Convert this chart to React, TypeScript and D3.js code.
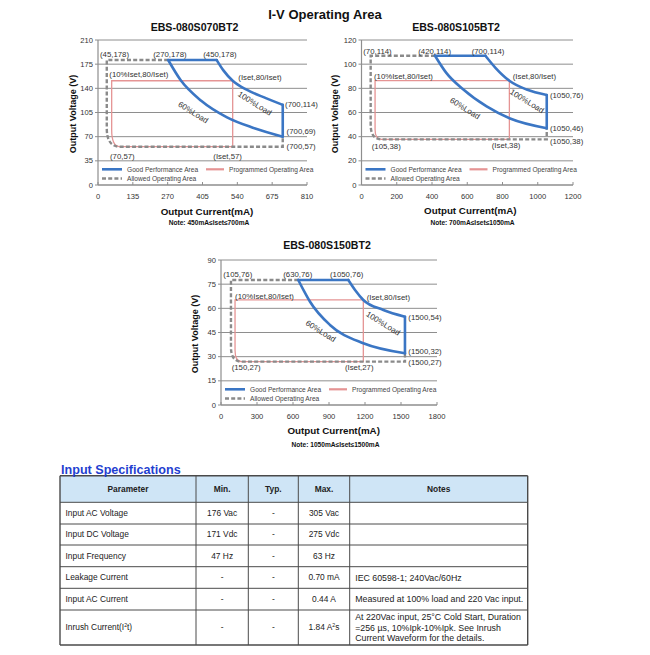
import React from 'react';
import * as d3 from 'd3';

const FONT = '"Liberation Sans", Arial, Helvetica, sans-serif';
type Pt = [number, number];
interface Lbl { t: string; x: number; y: number }

// ---------- Chart 1: EBS-080S070BT2 ----------
const c1XTicks = [0, 135, 270, 405, 540, 675, 810];
const c1YTicks = [0, 35, 70, 105, 140, 175, 210];
const c1Load100: Pt[] = [[460, 181], [486, 166], [522, 151], [576, 138], [653, 125.5], [716, 116]];
const c1Load60: Pt[] = [[272, 181], [320, 152], [400, 122], [500, 98], [600, 83], [716, 70]];
const c1Allowed: Pt[] = [[272, 181], [34, 181], [34, 82], [34, 55.5], [85, 55.5], [716, 55.5], [716, 70]];
const c1Programmed: Pt[] = [[53, 80], [53, 151], [522, 151], [522, 55.5], [85, 55.5], [53, 55.5]];
const c1Labels: Lbl[] = [
  { t: '(45,178)', x: 7.8, y: 189.7 },
  { t: '(270,178)', x: 214, y: 189.7 },
  { t: '(450,178)', x: 408, y: 189.7 },
  { t: '(10%Iset,80/Iset)', x: 44, y: 160.3 },
  { t: '(Iset,80/Iset)', x: 544, y: 156 },
  { t: '(700,114)', x: 725, y: 117 },
  { t: '(700,69)', x: 731, y: 77.2 },
  { t: '(700,57)', x: 731, y: 55.5 },
  { t: '(70,57)', x: 46.5, y: 42 },
  { t: '(Iset,57)', x: 447, y: 42 },
];
const c1LoadLabels: Lbl[] = [
  { t: '100%Load', x: 608, y: 118.3 },
  { t: '60%Load', x: 369, y: 105.3 },
];

// ---------- Chart 2: EBS-080S105BT2 ----------
const c2XTicks = [0, 200, 400, 600, 800, 1000, 1200];
const c2YTicks = [0, 20, 40, 60, 80, 100, 120];
const c2Load100: Pt[] = [[703, 107], [760, 97], [839, 86.3], [937, 79], [1051, 74.5]];
const c2Load60: Pt[] = [[417, 107], [480, 93], [578, 79], [710, 65], [843, 55], [1051, 47]];
const c2Allowed: Pt[] = [[417, 107], [52, 107], [52, 50], [52, 37.8], [114, 37.8], [1051, 37.8], [1051, 47]];
const c2Programmed: Pt[] = [[77, 46], [77, 86.3], [839, 86.3], [839, 37.8], [114, 37.8], [77, 37.8]];
const c2Labels: Lbl[] = [
  { t: '(70,114)', x: 10, y: 110.3 },
  { t: '(420,114)', x: 322, y: 110.3 },
  { t: '(700,114)', x: 625, y: 110.3 },
  { t: '(10%Iset,80/Iset)', x: 71, y: 90.2 },
  { t: '(Iset,80/Iset)', x: 858, y: 90.2 },
  { t: '(1050,76)', x: 1069, y: 74.5 },
  { t: '(1050,46)', x: 1069, y: 46.9 },
  { t: '(1050,38)', x: 1069, y: 36.4 },
  { t: '(105,38)', x: 58, y: 31.7 },
  { t: '(Iset,38)', x: 739, y: 32.5 },
];
const c2LoadLabels: Lbl[] = [
  { t: '100%Load', x: 939, y: 69.5 },
  { t: '60%Load', x: 587, y: 63.5 },
];

// ---------- Chart 3: EBS-080S150BT2 ----------
const c3XTicks = [0, 300, 600, 900, 1200, 1500, 1800];
const c3YTicks = [0, 15, 30, 45, 60, 75, 90];
const c3Load100: Pt[] = [[1061, 77.6], [1117, 71.4], [1186, 65.2], [1353, 59], [1533, 54.8]];
const c3Load60: Pt[] = [[644, 77.6], [690, 71], [742, 64.1], [908, 49.7], [1186, 38.3], [1533, 32.1]];
const c3Allowed: Pt[] = [[644, 77.6], [83, 77.6], [83, 36], [83, 26.9], [172, 26.9], [1533, 26.9], [1533, 32.1]];
const c3Programmed: Pt[] = [[117, 34], [117, 65.2], [1186, 65.2], [1186, 26.9], [172, 26.9], [117, 26.9]];
const c3Labels: Lbl[] = [
  { t: '(105,76)', x: 19, y: 81.1 },
  { t: '(630,76)', x: 519, y: 81.1 },
  { t: '(1050,76)', x: 908, y: 81.1 },
  { t: '(10%Iset,80/Iset)', x: 117, y: 67.7 },
  { t: '(Iset,80/Iset)', x: 1214, y: 66.8 },
  { t: '(1500,54)', x: 1561, y: 54.2 },
  { t: '(1500,32)', x: 1561, y: 33.1 },
  { t: '(1500,27)', x: 1561, y: 26.5 },
  { t: '(150,27)', x: 89, y: 23.2 },
  { t: '(Iset,27)', x: 1033, y: 23.2 },
];
const c3LoadLabels: Lbl[] = [
  { t: '100%Load', x: 1352, y: 50.7 },
  { t: '60%Load', x: 831, y: 45.9 },
];

const legendNames = ['Good Performance Area', 'Programmed Operating Area', 'Allowed Operating Area'];

// ---------- Table ----------
const tableHeaders = ['Parameter', 'Min.', 'Typ.', 'Max.', 'Notes'];
const tableParams = ['Input AC Voltage', 'Input DC Voltage', 'Input Frequency', 'Leakage Current', 'Input AC Current', 'Inrush Current(I^2t)'];
const tableMin = ['176 Vac', '171 Vdc', '47 Hz', '-', '-', '-'];
const tableTyp = ['-', '-', '-', '-', '-', '-'];
const tableMax = ['305 Vac', '275 Vdc', '63 Hz', '0.70 mA', '0.44 A', '1.84 A^2s'];
const tableNotes: string[][] = [
  [], [], [],
  ['IEC 60598-1; 240Vac/60Hz'],
  ['Measured at 100% load and 220 Vac input.'],
  ['At 220Vac input, 25°C Cold Start, Duration', '=256 µs, 10%Ipk-10%Ipk. See Inrush', 'Current Waveform for the details.'],
];

const BLUE = '#3b76c4';
const PINK = '#e59494';
const GRAY = '#8a8a8a';
const GRID = '#8e8e8e';

interface Cfg {
  x0: number; x1: number; y0: number; y1: number;
  titleX: number; titleY: number; xtX: number; xtY: number; noteX: number; noteY: number; ytX: number; ytY: number;
}

function Chart(props: {
  cfg: Cfg; title: string; note: string; xTicks: number[]; yTicks: number[];
  load100: Pt[]; load60: Pt[]; allowed: Pt[]; programmed: Pt[]; labels: Lbl[]; loadLabels: Lbl[];
}) {
  const { cfg, xTicks, yTicks, load100, load60, allowed: a, programmed: p } = props;
  const x = d3.scaleLinear().domain([xTicks[0], xTicks[xTicks.length - 1]]).range([cfg.x0, cfg.x1]);
  const y = d3.scaleLinear().domain([yTicks[0], yTicks[yTicks.length - 1]]).range([cfg.y0, cfg.y1]);
  const curve = d3.line<Pt>().x(d => x(d[0])).y(d => y(d[1])).curve(d3.curveMonotoneX);

  const ap = d3.path();
  ap.moveTo(x(a[0][0]), y(a[0][1]));
  ap.lineTo(x(a[1][0]), y(a[1][1]));
  ap.lineTo(x(a[2][0]), y(a[2][1]));
  ap.quadraticCurveTo(x(a[3][0]), y(a[3][1]), x(a[4][0]), y(a[4][1]));
  ap.lineTo(x(a[5][0]), y(a[5][1]));
  ap.lineTo(x(a[6][0]), y(a[6][1]));

  const pp = d3.path();
  pp.moveTo(x(p[0][0]), y(p[0][1]));
  pp.lineTo(x(p[1][0]), y(p[1][1]));
  pp.lineTo(x(p[2][0]), y(p[2][1]));
  pp.lineTo(x(p[3][0]), y(p[3][1]));
  pp.lineTo(x(p[4][0]), y(p[4][1]));
  pp.quadraticCurveTo(x(p[5][0]), y(p[5][1]), x(p[0][0]), y(p[0][1]));
  pp.closePath();

  const l60s = load60[0], l100s = load100[0];
  const l100e = load100[load100.length - 1], l60e = load60[load60.length - 1];
  const goodTop = `M${x(l60s[0])},${y(l60s[1])}L${x(l100s[0])},${y(l100s[1])}`;
  const goodRight = `M${x(l100e[0])},${y(l100e[1])}L${x(l60e[0])},${y(l60e[1])}`;

  const lx = cfg.x0;
  const ly1 = cfg.y0 - 15.7;
  const ly2 = cfg.y0 - 6.5;

  return (
    <g fontFamily={FONT}>
      <text x={cfg.titleX} y={cfg.titleY} textAnchor="middle" fontWeight="bold" fontSize={10.6} fill="#111">{props.title}</text>
      {yTicks.map(t => (
        <g key={'y' + t}>
          <line x1={cfg.x0 - 3} x2={cfg.x1} y1={y(t)} y2={y(t)} stroke={GRID} strokeWidth={1} />
          <text x={cfg.x0 - 5} y={y(t)} dy="0.35em" textAnchor="end" fontSize={7.6} fill="#333">{t}</text>
        </g>
      ))}
      {xTicks.map(t => (
        <g key={'x' + t}>
          <line x1={x(t)} x2={x(t)} y1={cfg.y0} y2={cfg.y0 - 3} stroke={GRID} strokeWidth={1} />
          <text x={x(t)} y={cfg.y0 + 11} dy="0.35em" textAnchor="middle" fontSize={7.6} fill="#333">{t}</text>
        </g>
      ))}
      <line x1={cfg.x0} x2={cfg.x0} y1={cfg.y0} y2={cfg.y1} stroke={GRID} strokeWidth={1.2} />
      <line x1={cfg.x0} x2={cfg.x1} y1={cfg.y0} y2={cfg.y0} stroke={GRID} strokeWidth={1.2} />

      <path d={pp.toString()} fill="none" stroke={PINK} strokeWidth={1.3} />
      <path d={ap.toString()} fill="none" stroke={GRAY} strokeWidth={2.4} strokeDasharray="4,2.2" />
      <g fill="none" stroke={BLUE} strokeWidth={2.6} strokeLinecap="round" strokeLinejoin="round">
        <path d={goodTop} />
        <path d={curve(load100) || ''} />
        <path d={goodRight} />
        <path d={curve(load60) || ''} />
      </g>

      {props.labels.map((l, i) => (
        <text key={'l' + i} x={x(l.x)} y={y(l.y)} dy="0.35em" fontSize={7.8} fill="#333">{l.t}</text>
      ))}
      {props.loadLabels.map((l, i) => (
        <text key={'ll' + i} transform={`translate(${x(l.x)},${y(l.y)}) rotate(32)`} dy="0.35em" textAnchor="middle" fontSize={8} fill="#333">{l.t}</text>
      ))}

      <line x1={lx + 4} x2={lx + 24} y1={ly1} y2={ly1} stroke={BLUE} strokeWidth={2.6} />
      <text x={lx + 29} y={ly1} dy="0.35em" fontSize={6.6} fill="#444">{legendNames[0]}</text>
      <line x1={lx + 108} x2={lx + 126} y1={ly1} y2={ly1} stroke={PINK} strokeWidth={2.2} />
      <text x={lx + 131} y={ly1} dy="0.35em" fontSize={6.6} fill="#444">{legendNames[1]}</text>
      <line x1={lx + 4} x2={lx + 24} y1={ly2} y2={ly2} stroke={GRAY} strokeWidth={2.4} strokeDasharray="4,2.2" />
      <text x={lx + 29} y={ly2} dy="0.35em" fontSize={6.6} fill="#444">{legendNames[2]}</text>

      <text transform={`translate(${cfg.ytX},${cfg.ytY}) rotate(-90)`} dy="0.35em" textAnchor="middle" fontWeight="bold" fontSize={9} fill="#111">Output Voltage (V)</text>
      <text x={cfg.xtX} y={cfg.xtY} textAnchor="middle" fontWeight="bold" fontSize={9.8} fill="#111">Output Current(mA)</text>
      <text x={cfg.noteX} y={cfg.noteY} textAnchor="middle" fontWeight="bold" fontSize={6.6} fill="#111">{props.note}</text>
    </g>
  );
}

function Rich(props: { s: string; size: number }) {
  const parts = props.s.split('^2');
  if (parts.length === 1) return <>{props.s}</>;
  return (
    <>
      {parts[0]}
      <tspan baselineShift="super" fontSize={props.size * 0.62}>2</tspan>
      {parts[1]}
    </>
  );
}

function Table() {
  const cols = [60, 196, 248.3, 298.3, 349.7, 527.7];
  const rows = [475.7, 502.3, 524, 545, 566.7, 588.3, 610, 645];
  const fs = 8.4;
  const lineStroke = '#4a4a4a';
  return (
    <g fontFamily={FONT}>
      <rect x={cols[0]} y={rows[0]} width={cols[5] - cols[0]} height={rows[1] - rows[0]} fill="#cfe5f6" />
      {rows.map((r, i) => (
        <line key={'r' + i} x1={cols[0]} x2={cols[5]} y1={r} y2={r} stroke={lineStroke} strokeWidth={i === 0 || i === rows.length - 1 ? 1.4 : 1} />
      ))}
      {cols.map((c, i) => (
        <line key={'c' + i} x1={c} x2={c} y1={rows[0]} y2={rows[rows.length - 1]} stroke={lineStroke} strokeWidth={i === 0 || i === cols.length - 1 ? 1.4 : 1} />
      ))}
      <text x={61} y={474} fontWeight="bold" fontSize={12.6} fill="#1f3fd0">Input Specifications</text>
      {tableHeaders.map((h, i) => (
        <text key={'h' + i} x={(cols[i] + cols[i + 1]) / 2} y={(rows[0] + rows[1]) / 2} dy="0.35em" textAnchor="middle" fontWeight="bold" fontSize={8.4} fill="#222">{h}</text>
      ))}
      {tableParams.map((p, i) => {
        const cy = (rows[i + 1] + rows[i + 2]) / 2;
        const notes = tableNotes[i];
        return (
          <g key={'row' + i} fontSize={fs} fill="#222">
            <text x={cols[0] + 5.5} y={cy} dy="0.35em"><Rich s={p} size={fs} /></text>
            <text x={(cols[1] + cols[2]) / 2} y={cy} dy="0.35em" textAnchor="middle">{tableMin[i]}</text>
            <text x={(cols[2] + cols[3]) / 2} y={cy} dy="0.35em" textAnchor="middle">{tableTyp[i]}</text>
            <text x={(cols[3] + cols[4]) / 2} y={cy} dy="0.35em" textAnchor="middle"><Rich s={tableMax[i]} size={fs} /></text>
            {notes.map((n, j) => (
              <text key={j} x={cols[4] + 5.5} y={cy + (j - (notes.length - 1) / 2) * 10.5} dy="0.35em" fontSize={8.8}>{n}</text>
            ))}
          </g>
        );
      })}
    </g>
  );
}

export default function App() {
  return (
    <svg width={650} height={655} style={{ position: 'absolute', left: 0, top: 0, background: '#fff' }}>
      <text x={325} y={19} textAnchor="middle" fontFamily={FONT} fontWeight="bold" fontSize={13} fill="#111">I-V Operating Area</text>
      <Chart
        cfg={{ x0: 98, x1: 307, y0: 185, y1: 40, titleX: 194.5, titleY: 30.5, xtX: 207, xtY: 214.5, noteX: 209, noteY: 225, ytX: 72.7, ytY: 114 }}
        title="EBS-080S070BT2" note="Note:  450mA≤Iset≤700mA"
        xTicks={c1XTicks} yTicks={c1YTicks} load100={c1Load100} load60={c1Load60}
        allowed={c1Allowed} programmed={c1Programmed} labels={c1Labels} loadLabels={c1LoadLabels}
      />
      <Chart
        cfg={{ x0: 361.5, x1: 573, y0: 185, y1: 40, titleX: 456, titleY: 30.5, xtX: 470.3, xtY: 214, noteX: 472.5, noteY: 224.5, ytX: 335, ytY: 114 }}
        title="EBS-080S105BT2" note="Note:  700mA≤Iset≤1050mA"
        xTicks={c2XTicks} yTicks={c2YTicks} load100={c2Load100} load60={c2Load60}
        allowed={c2Allowed} programmed={c2Programmed} labels={c2Labels} loadLabels={c2LoadLabels}
      />
      <Chart
        cfg={{ x0: 221, x1: 437, y0: 405, y1: 260, titleX: 327, titleY: 249, xtX: 333.7, xtY: 434, noteX: 335.5, noteY: 447, ytX: 195, ytY: 334 }}
        title="EBS-080S150BT2" note="Note:  1050mA≤Iset≤1500mA"
        xTicks={c3XTicks} yTicks={c3YTicks} load100={c3Load100} load60={c3Load60}
        allowed={c3Allowed} programmed={c3Programmed} labels={c3Labels} loadLabels={c3LoadLabels}
      />
      <Table />
    </svg>
  );
}
